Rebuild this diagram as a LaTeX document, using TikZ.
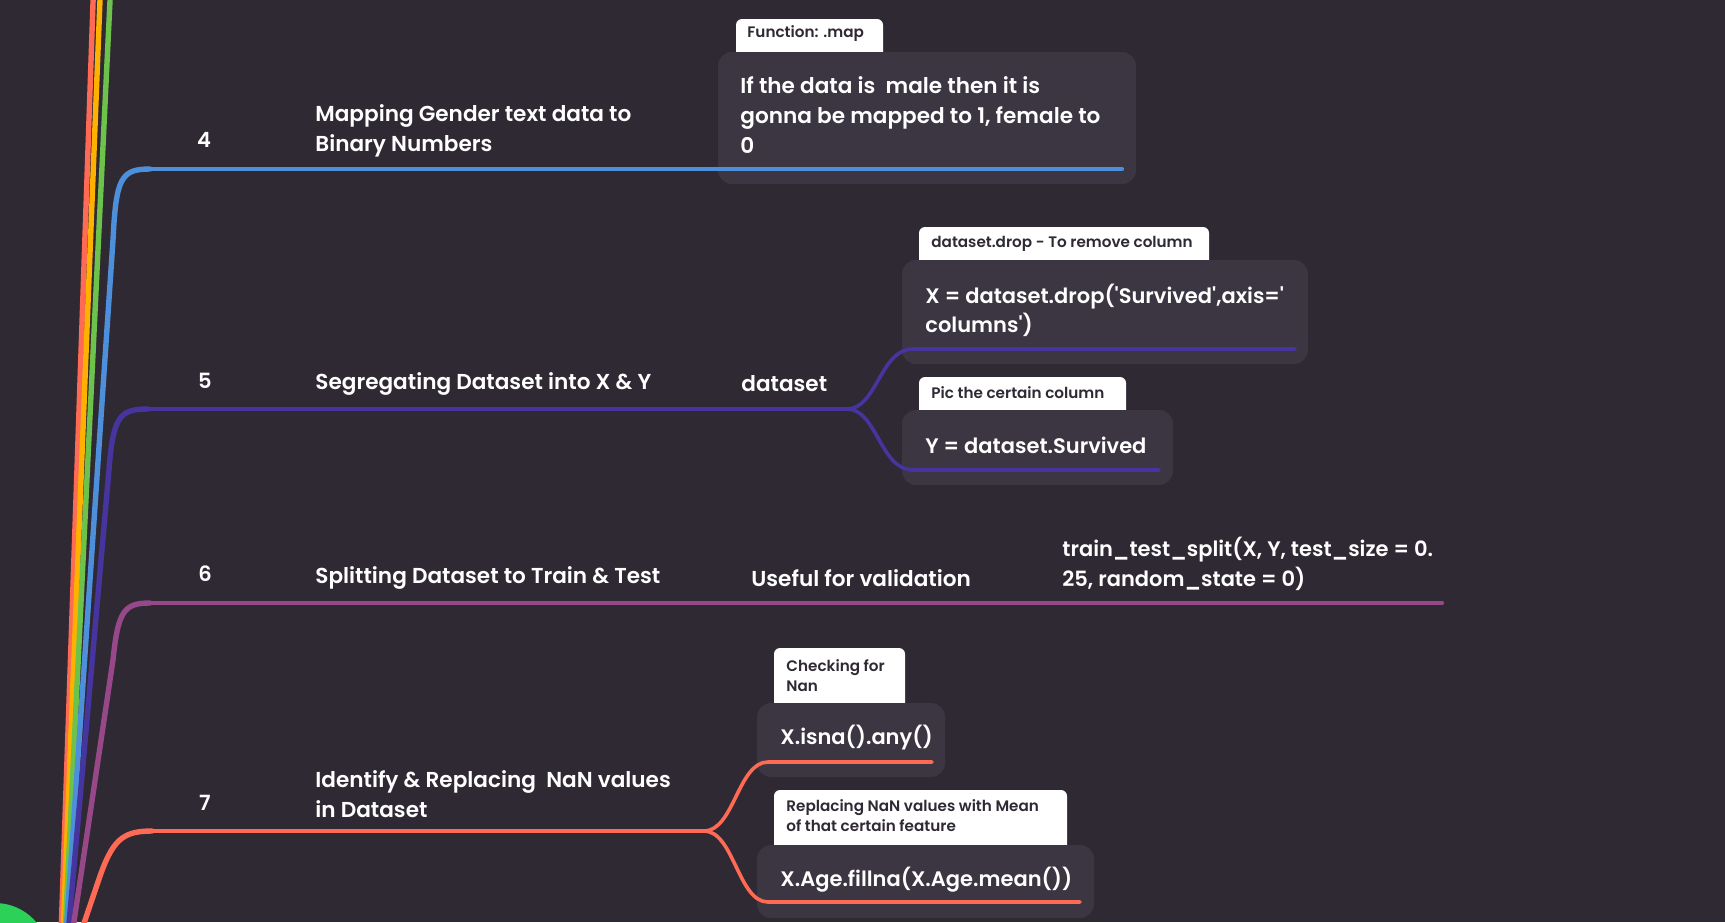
\documentclass[tikz,border=0pt]{standalone}
\usepackage{fontspec}
\setmainfont{Poppins}[BoldFont={Poppins SemiBold}]
\definecolor{bgc}{RGB}{47,41,52}
\definecolor{cardc}{RGB}{59,54,65}
\definecolor{cblue}{RGB}{78,143,219}
\definecolor{cdblue}{RGB}{70,53,158}
\definecolor{cpurple}{RGB}{151,72,136}
\definecolor{cred}{RGB}{255,106,85}
\definecolor{corange}{RGB}{255,177,0}
\definecolor{cgreen}{RGB}{109,194,75}
\definecolor{croot}{RGB}{43,210,87}
\newcommand{\sq}{\textquotesingle}
\begin{document}
\begin{tikzpicture}[x=0.5pt,y=-0.5pt,
  maintext/.style={text=white, font=\bfseries\fontsize{10.8}{14.8}\selectfont, inner sep=0pt, anchor=west, align=left},
  codetext/.style={text=white, font=\bfseries\fontsize{10.5}{14.8}\selectfont, inner sep=0pt, anchor=west, align=left},
  tabtext/.style={text=bgc, font=\bfseries\fontsize{7.6}{10}\selectfont, inner sep=0pt, anchor=west, align=left},
  numtext/.style={text=white, font=\bfseries\fontsize{10.5}{14}\selectfont, inner sep=0pt},
  br/.style={line width=2.1pt, line cap=round},
  thick br/.style={line width=2.7pt, line cap=round},
  sub/.style={line width=1.8pt, line cap=round},
  tabbox/.style={fill=white, rounded corners=3pt},
  card/.style={fill=cardc, rounded corners=7pt}]
\fill[bgc] (0,0) rectangle (1725,922);
\useasboundingbox (0,0) rectangle (1725,922);
\clip (0,0) rectangle (1725,922);

% roots of branch lines
\coordinate (r1) at (61,935);
\coordinate (r2) at (63,935);
\coordinate (r3) at (65,935);
\coordinate (r4) at (66,935);
\coordinate (r5) at (68,935);
\coordinate (r6) at (72,935);
\coordinate (r7) at (80,935);
\coordinate (t1) at (93.8,-20);
\coordinate (t2) at (100.8,-20);
\coordinate (t3) at (111,-20);

% cards and tabs
\fill[tabbox] (736,19) rectangle (883,60);
\fill[card] (718,52) rectangle (1136,184);
\fill[tabbox] (919,227) rectangle (1209,270);
\fill[card] (902,260) rectangle (1308,364);
\fill[tabbox] (919,377) rectangle (1126,420);
\fill[card] (902,410) rectangle (1173,485);
\fill[tabbox] (774,648) rectangle (905,712);
\fill[card] (757,703) rectangle (945,777);
\fill[tabbox] (774,790) rectangle (1067,854);
\fill[card] (757,845) rectangle (1094,918);

% branches 1-3 (off the top)
\draw[thick br, cred] (r1) -- (t1);
\draw[thick br, corange] (r2) -- (t2);
\draw[thick br, cgreen] (r3) -- (t3);

% branch 4
\coordinate (e4) at (1122,169);
\draw[br, cblue] (150,169) -- (e4);
\draw[thick br, cblue] (r4) -- (113,240) .. controls (116,178) and (121,169) .. (150,169);

% branch 5
\coordinate (s5) at (847,409);
\coordinate (e5a) at (1295,349);
\coordinate (e5b) at (1159,470);
\draw[br, cdblue] (148,409) -- (s5);
\draw[thick br, cdblue] (r5) -- (109,470) .. controls (113,416) and (120,409) .. (148,409);
\draw[sub, cdblue] (s5) .. controls (877,409) and (880,349) .. (913,349) -- (e5a);
\draw[sub, cdblue] (s5) .. controls (877,409) and (880,470) .. (913,470) -- (e5b);

% branch 6
\coordinate (e6) at (1442,603);
\draw[br, cpurple] (150,603) -- (e6);
\draw[thick br, cpurple] (r6) -- (113,660) .. controls (118,611) and (124,603) .. (150,603);

% branch 7
\coordinate (s7) at (704,831);
\coordinate (e7a) at (932,762);
\coordinate (e7b) at (1080,902);
\draw[br, cred] (152,831) -- (s7);
\draw[thick br, cred] (r7) -- (98,882) .. controls (112,840) and (122,831) .. (152,831);
\draw[sub, cred] (s7) .. controls (734,831) and (738,762) .. (768,762) -- (e7a);
\draw[sub, cred] (s7) .. controls (734,831) and (738,902) .. (768,902) -- (e7b);

% root
\fill[croot] (-5,957) circle (27pt);

% texts branch 4
\node[numtext] (n4) at (204,140) {4};
\node[maintext] (l4) at (315,131) {Mapping Gender text data to\\Binary Numbers};
\node[tabtext] (tab4) at (747,34) {Function: .map};
\node[maintext] (d4) at (740,115) {If the data is\ \ male then it is\\gonna be mapped to 1, female to\\0};

% branch 5
\node[numtext] (n5) at (205,381) {5};
\node[maintext] (l5) at (315,384) {Segregating Dataset into X \& Y};
\node[maintext] (ds5) at (741,384) {dataset};
\node[tabtext] (tab5a) at (931,244) {dataset.drop - To remove column};
\node[codetext] (x5) at (925,310.5) {X = dataset.drop(\sq Survived\sq,axis=\sq\\columns\sq)};
\node[tabtext] (tab5b) at (931,393) {Pic the certain column};
\node[codetext] (y5) at (925,445) {Y = dataset.Survived};

% branch 6
\node[numtext] (n6) at (205,574) {6};
\node[maintext] (l6) at (315,578) {Splitting Dataset to Train \& Test};
\node[maintext] (u6) at (751,578) {Useful for validation};
\node[codetext] (c6) at (1062,564) {train\_test\_split(X, Y, test\_size = 0.\\25, random\_state = 0)};

% branch 7
\node[numtext] (n7) at (205,803) {7};
\node[maintext] (l7) at (315,794) {Identify \& Replacing\ \ NaN values\\in Dataset};
\node[tabtext] (tab7a) at (786,676) {Checking for\\Nan};
\node[codetext] (x7) at (780,738) {X.isna().any()};
\node[tabtext] (tab7b) at (786,816) {Replacing NaN values with Mean\\of that certain feature};
\node[codetext] (a7) at (780,880) {X.Age.fillna(X.Age.mean())};
\end{tikzpicture}
\end{document}
